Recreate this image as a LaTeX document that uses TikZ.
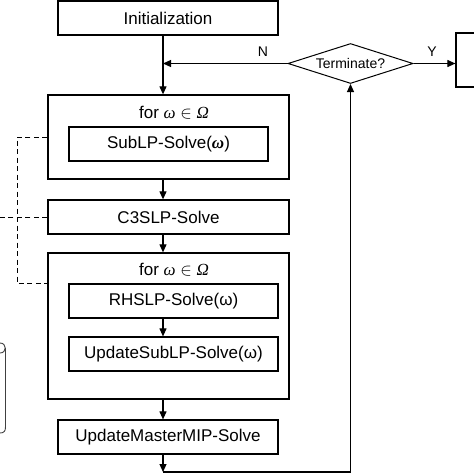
\documentclass[tikz,border=0pt]{standalone}
\usepackage{fontspec}
\setmainfont{Liberation Sans}
\newfontfamily\greekfont{Liberation Serif}
\usepackage{tikz}
\usetikzlibrary{shapes.geometric,arrows.meta}

\tikzset{
  procbox/.style={draw, line width=1.2pt, inner sep=0pt, minimum height=34pt, font=\fontsize{17}{20}\selectfont},
  loopbox/.style={draw, line width=1.3pt, inner sep=0pt, minimum width=241pt},
  looplabel/.style={inner sep=0pt, font=\fontsize{17}{20}\selectfont},
  smalllabel/.style={inner sep=0pt, font=\fontsize{14}{16}\selectfont},
  arr/.style={line width=1.1pt, -{Triangle[length=8pt,width=7pt]}},
  dashline/.style={line width=0.8pt, dash pattern=on 5pt off 3.5pt},
}

\begin{document}
\begin{tikzpicture}[x=1pt,y=-1pt]
\clip (0,0) rectangle (474,474);
\coordinate (spine) at (163,0);
\coordinate (dashx) at (17,0);
\coordinate (edge) at (0,0);

%Shape: start box
\node[procbox, minimum width=220pt] (init) at (168,18) {Initialization};
%Shape: test
\node[draw, diamond, aspect=3, line width=1pt, inner sep=0pt, minimum width=125pt, minimum height=40pt, smalllabel] (term) at (350.5,63.5) {Terminate?};
\node[procbox, minimum width=40pt, minimum height=54pt] (stop) at (476,60) {};
% Text Node
\node[smalllabel] (nlab) at (263,52) {N};
\node[smalllabel] (ylab) at (432,52) {Y};

%Shape: first scenario loop
\node[loopbox, minimum height=84pt] (loopA) at (168.5,137) {};
\node[looplabel] (forA) at (174,113) {for {\greekfont\itshape ω} $\in$ {\greekfont\itshape Ω}};
\node[procbox, minimum width=199pt] (subA) at (168.5,144) {SubLP-Solve({\greekfont\bfseries\itshape ω})};

%Shape: cut step
\node[procbox, minimum width=241pt, line width=1.3pt] (c3) at (168.5,217) {C3SLP-Solve};

%Shape: second scenario loop
\node[loopbox, minimum height=146pt] (loopB) at (168.5,326) {};
\node[looplabel] (forB) at (174,270) {for {\greekfont\itshape ω} $\in$ {\greekfont\itshape Ω}};
\node[procbox, minimum width=209pt] (rhs) at (173.5,301) {RHSLP-Solve(ω)};
\node[procbox, minimum width=209pt] (upd) at (173.5,354) {UpdateSubLP-Solve(ω)};

%Shape: master step
\node[procbox, minimum width=220pt] (mip) at (168,437) {UpdateMasterMIP-Solve};

%Straight Lines
\draw[arr] (init.south -| spine) -- (loopA.north -| spine);
\draw[arr] (term.west) -- (term.west -| spine);
\draw[arr] (term.east) -- (term.east -| stop.west);
\draw[arr] (loopA.south -| spine) -- (c3.north -| spine);
\draw[arr] (c3.south -| spine) -- (loopB.north -| spine);
\draw[arr] (rhs.south -| spine) -- (upd.north -| spine);
\draw[arr] (loopB.south -| spine) -- (mip.north -| spine);
\coordinate (back) at (163,472);
\draw[arr] (mip.south -| spine) -- (back);
\draw[arr] (back) -| (term.south);

%Dashed bracket
\draw[dashline] (loopA.west) -- (loopA.west -| dashx) -- (dashx |- rhs.north) -- (loopB.west |- rhs.north);
\draw[dashline] (c3.west) -- (c3.west -| edge);

%Shape: store (cut off)
\draw[line width=0.9pt, black!75] (0,343) .. controls (7,343) and (7,353) .. (0,353);
\draw[line width=0.9pt, black!75] (5.5,348) -- (5.5,427) .. controls (5.5,431) and (4,433) .. (0,433);
\end{tikzpicture}
\end{document}
